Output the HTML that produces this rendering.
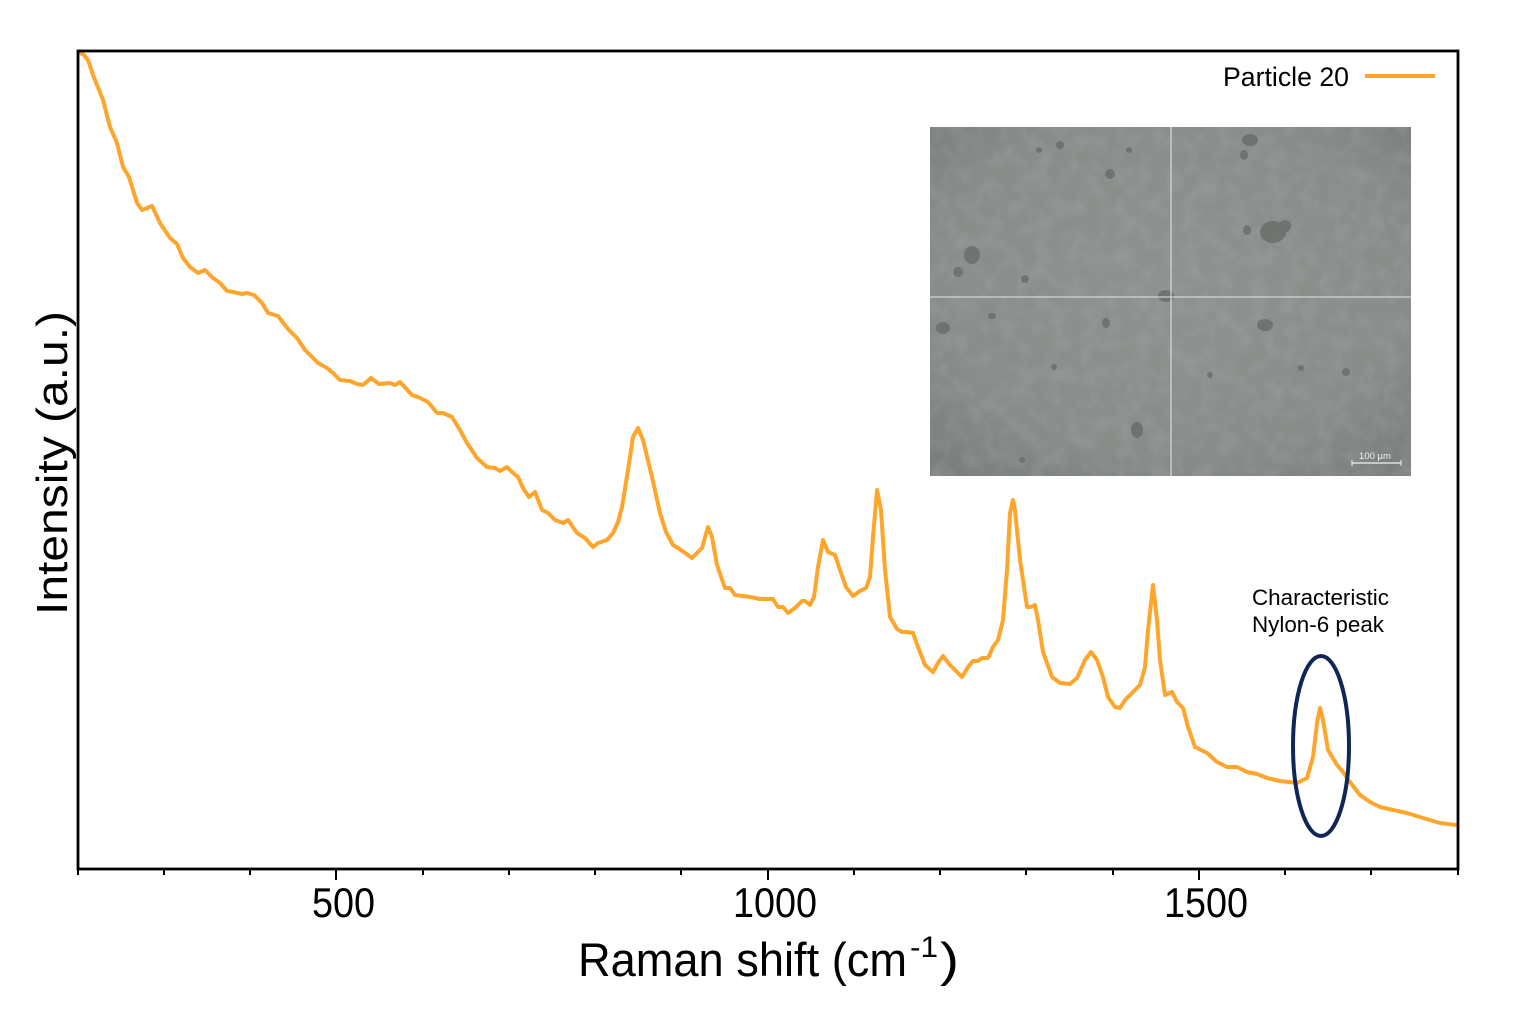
<!DOCTYPE html>
<html>
<head>
<meta charset="utf-8">
<style>
  html, body { margin:0; padding:0; background:#ffffff; }
  body { width:1536px; height:1024px; overflow:hidden; }
  svg { display:block; }
  .ax { font-family: "Liberation Sans", "DejaVu Sans", sans-serif; fill:#000; }
</style>
</head>
<body>
<svg width="1536" height="1024" viewBox="0 0 1536 1024" xmlns="http://www.w3.org/2000/svg">
  <defs>
    <radialGradient id="vig" cx="50%" cy="45%" r="70%">
      <stop offset="0%" stop-color="#8e928f"/>
      <stop offset="70%" stop-color="#898d8a"/>
      <stop offset="100%" stop-color="#7a7e7c"/>
    </radialGradient>
    <filter id="tex" x="0" y="0" width="100%" height="100%">
      <feTurbulence type="fractalNoise" baseFrequency="0.06" numOctaves="2" seed="3" result="n"/>
      <feColorMatrix type="matrix" values="0 0 0 0 0.45  0 0 0 0 0.47  0 0 0 0 0.46  0 0 0 0.9 -0.35" in="n" result="c"/>
      <feComposite in="c" in2="SourceGraphic" operator="in"/>
    </filter>
    <clipPath id="insetClip"><rect x="930" y="127" width="481" height="349"/></clipPath>
  </defs>

  <rect width="1536" height="1024" fill="#ffffff"/>

  <!-- Inset microscope image -->
  <g clip-path="url(#insetClip)">
    <rect x="930" y="127" width="481" height="349" fill="url(#vig)"/>
    <rect x="930" y="127" width="481" height="349" fill="#888" filter="url(#tex)" opacity="0.55"/>
    <g fill="#6b6f6c" opacity="0.85">
      <ellipse cx="1110" cy="174" rx="5" ry="5"/>
      <ellipse cx="1060" cy="145" rx="4" ry="4"/>
      <ellipse cx="1039" cy="150" rx="3" ry="3"/>
      <ellipse cx="1129" cy="150" rx="3" ry="3"/>
      <ellipse cx="1250" cy="140" rx="8" ry="6"/>
      <ellipse cx="1244" cy="155" rx="4" ry="5"/>
      <ellipse cx="1273" cy="232" rx="13" ry="11"/>
      <ellipse cx="1285" cy="226" rx="6" ry="6"/>
      <ellipse cx="972" cy="255" rx="8" ry="9"/>
      <ellipse cx="958" cy="272" rx="5" ry="5"/>
      <ellipse cx="1166" cy="296" rx="8" ry="6"/>
      <ellipse cx="1106" cy="323" rx="4" ry="5"/>
      <ellipse cx="1265" cy="325" rx="8" ry="6"/>
      <ellipse cx="943" cy="328" rx="7" ry="6"/>
      <ellipse cx="992" cy="316" rx="4" ry="3"/>
      <ellipse cx="1137" cy="430" rx="6" ry="8"/>
      <ellipse cx="1346" cy="372" rx="4" ry="4"/>
      <ellipse cx="1301" cy="368" rx="3" ry="3"/>
      <ellipse cx="1025" cy="279" rx="4" ry="4"/>
      <ellipse cx="1054" cy="367" rx="3" ry="3"/>
      <ellipse cx="1210" cy="375" rx="3" ry="3"/>
      <ellipse cx="1247" cy="230" rx="4" ry="5"/>
      <ellipse cx="1022" cy="460" rx="3" ry="3"/>
    </g>
    <!-- crosshair -->
    <line x1="1171" y1="127" x2="1171" y2="476" stroke="#dcdcdc" stroke-width="1.3" opacity="0.9"/>
    <line x1="930" y1="297" x2="1411" y2="297" stroke="#dcdcdc" stroke-width="1.3" opacity="0.9"/>
    <!-- scale bar -->
    <text x="1375" y="459" font-family="Liberation Sans, DejaVu Sans, sans-serif" font-size="9.5" fill="#f2f2f2" text-anchor="middle">100 µm</text>
    <line x1="1352" y1="463" x2="1401" y2="463" stroke="#f2f2f2" stroke-width="1.2"/>
    <line x1="1352" y1="460" x2="1352" y2="466" stroke="#f2f2f2" stroke-width="1"/>
    <line x1="1401" y1="460" x2="1401" y2="466" stroke="#f2f2f2" stroke-width="1"/>
  </g>

  <!-- Spectrum -->
  <polyline fill="none" stroke="#FFA52C" stroke-width="4" stroke-linejoin="round" stroke-linecap="round"
    points="79,52 84,55 88,60 93,75 103,100 110,127 117,143 123,167 129,177 137,203 142,210 152,206 160,223 170,238 177,244 183,258 190,267 198,273 205,270 213,278 220,283 227,291 233,292 242,294 247,293 254,295 262,303 268,313 278,316 288,329 297,338 305,350 318,363 327,368 333,373 340,380 350,381 357,384 363,385 371,378 379,384 390,383 395,385 400,382 412,395 418,397 428,402 437,413 443,413 452,417 460,430 467,443 477,458 487,467 495,468 500,471 507,467 512,472 518,477 523,488 529,497 535,492 542,510 548,513 555,520 563,523 568,520 577,533 585,538 593,547 598,543 607,540 613,533 618,522 622,507 628,470 633,437 638,428 643,440 652,477 660,513 666,532 673,545 678,548 685,553 692,558 702,548 708,527 712,537 717,565 725,588 730,588 735,595 750,597 760,599 773,599 778,607 783,607 788,613 795,608 802,601 805,601 810,605 814,597 818,567 823,540 828,552 835,555 840,570 846,587 853,596 860,591 866,588 870,577 873,537 877,490 881,510 885,570 890,617 897,629 902,632 907,632 913,633 918,647 925,665 933,672 938,663 943,656 950,665 962,677 968,667 973,661 978,661 982,658 988,658 993,647 998,640 1003,620 1007,570 1010,513 1013,500 1015,510 1020,560 1027,607 1031,607 1035,605 1038,620 1043,652 1052,677 1060,683 1070,684 1077,678 1085,660 1091,652 1097,660 1103,677 1108,697 1115,707 1120,708 1125,700 1135,690 1140,685 1145,667 1148,630 1153,585 1157,620 1160,660 1165,695 1172,692 1177,702 1183,708 1188,727 1195,747 1207,753 1217,762 1227,767 1237,767 1247,772 1257,774 1267,778 1280,781 1297,783 1307,778 1313,757 1317,723 1320,708 1323,720 1328,750 1337,765 1343,772 1350,782 1360,795 1370,802 1380,807 1393,810 1407,813 1423,818 1440,823 1456,825"/>

  <!-- Frame -->
  <rect x="78" y="51" width="1380" height="818" fill="none" stroke="#000" stroke-width="2.8"/>

  <!-- X ticks -->
  <g stroke="#000" stroke-width="2">
    <line x1="78" y1="869" x2="78" y2="875"/>
    <line x1="164" y1="869" x2="164" y2="875"/>
    <line x1="250" y1="869" x2="250" y2="875"/>
    <line x1="336" y1="869" x2="336" y2="880"/>
    <line x1="423" y1="869" x2="423" y2="875"/>
    <line x1="509" y1="869" x2="509" y2="875"/>
    <line x1="595" y1="869" x2="595" y2="875"/>
    <line x1="681" y1="869" x2="681" y2="875"/>
    <line x1="768" y1="869" x2="768" y2="880"/>
    <line x1="854" y1="869" x2="854" y2="875"/>
    <line x1="940" y1="869" x2="940" y2="875"/>
    <line x1="1026" y1="869" x2="1026" y2="875"/>
    <line x1="1113" y1="869" x2="1113" y2="875"/>
    <line x1="1199" y1="869" x2="1199" y2="880"/>
    <line x1="1285" y1="869" x2="1285" y2="875"/>
    <line x1="1371" y1="869" x2="1371" y2="875"/>
    <line x1="1458" y1="869" x2="1458" y2="875"/>
  </g>

  <!-- Tick labels -->
  <g class="ax" font-size="42">
    <text x="312" y="917" textLength="63" lengthAdjust="spacingAndGlyphs">500</text>
    <text x="733" y="917" textLength="84" lengthAdjust="spacingAndGlyphs">1000</text>
    <text x="1164" y="917" textLength="84" lengthAdjust="spacingAndGlyphs">1500</text>
  </g>

  <!-- X title -->
  <g class="ax">
    <text x="578" y="976" font-size="47" textLength="329" lengthAdjust="spacingAndGlyphs">Raman shift (cm</text>
    <text x="910" y="957" font-size="30" textLength="28" lengthAdjust="spacingAndGlyphs">-1</text>
    <text x="940" y="976" font-size="47" textLength="19" lengthAdjust="spacingAndGlyphs">)</text>
  </g>

  <!-- Y title -->
  <text class="ax" transform="translate(67,615) rotate(-90)" x="0" y="0" font-size="44" textLength="304" lengthAdjust="spacingAndGlyphs">Intensity (a.u.)</text>

  <!-- Legend -->
  <text class="ax" x="1223" y="86" font-size="27" textLength="126" lengthAdjust="spacingAndGlyphs">Particle 20</text>
  <line x1="1365" y1="76" x2="1435" y2="76" stroke="#FFA52C" stroke-width="4"/>

  <!-- Annotation -->
  <g font-family="Liberation Sans, Arial, sans-serif" font-size="22" fill="#000">
    <text x="1252" y="605" textLength="137" lengthAdjust="spacingAndGlyphs">Characteristic</text>
    <text x="1252" y="632" textLength="132" lengthAdjust="spacingAndGlyphs">Nylon-6 peak</text>
  </g>
  <ellipse cx="1321" cy="746" rx="28" ry="90" fill="none" stroke="#0f2656" stroke-width="4"/>
</svg>
</body>
</html>
